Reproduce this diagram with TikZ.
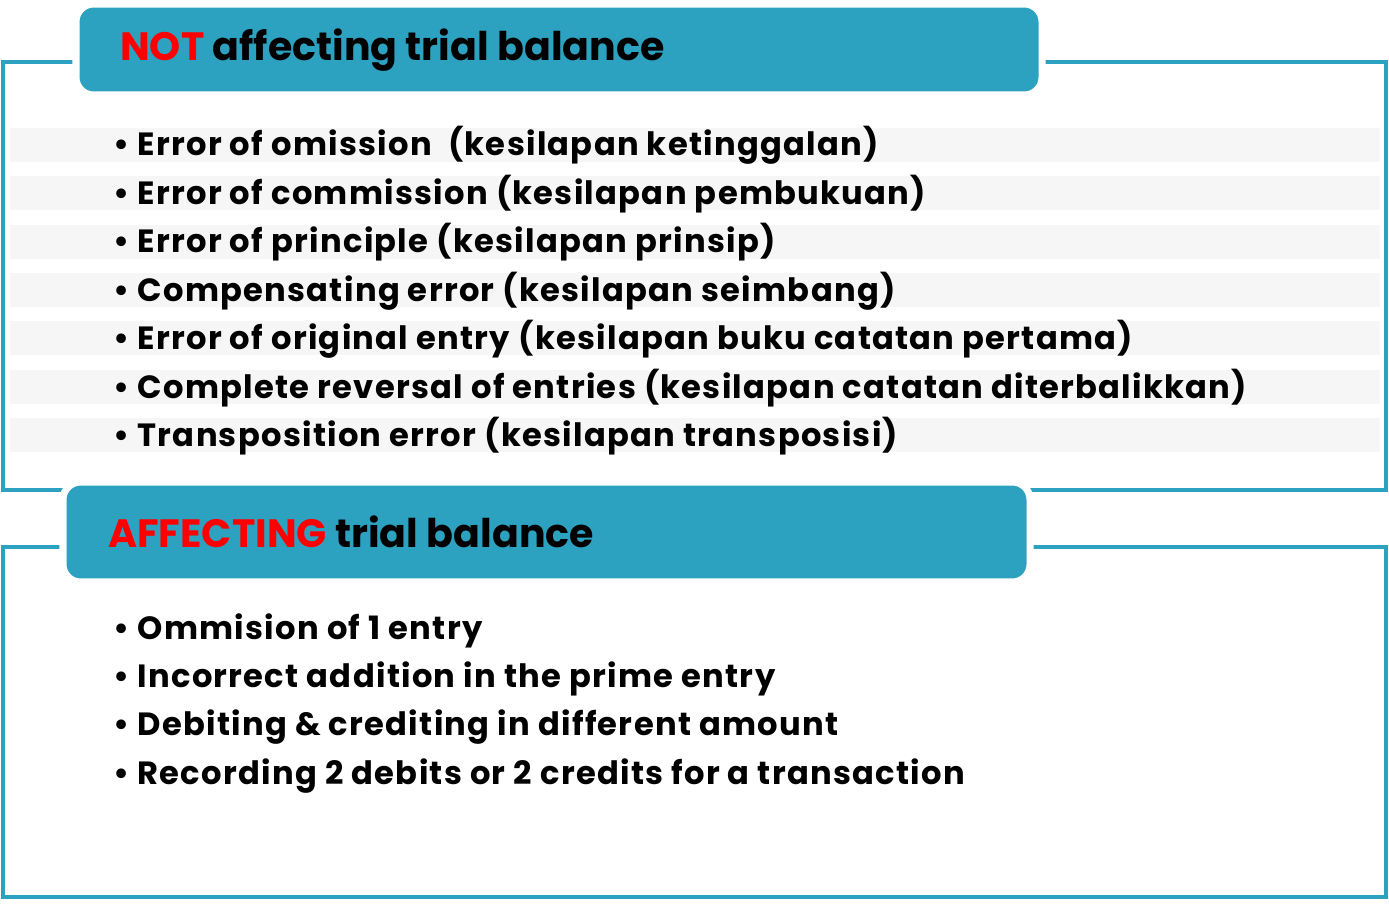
\documentclass[tikz,border=0pt]{standalone}
\usepackage{fontspec}
\setmainfont{Poppins}
\newfontfamily\itemfont[LetterSpace=4]{Poppins}
\definecolor{teal}{HTML}{2CA2C0}
\definecolor{notred}{HTML}{FF0000}
\definecolor{stripe}{HTML}{F6F6F6}
\tikzset{
  frame/.style={draw=teal, line width=2pt},
  header/.style={fill=teal, draw=white, line width=4pt, rounded corners=10pt},
  headtext/.style={anchor=west, font=\fontsize{22.5}{26}\selectfont\bfseries},
  item/.style={anchor=west, font=\itemfont\fontsize{18.3}{20}\selectfont\bfseries, inner sep=0pt},
}
\begin{document}
\begin{tikzpicture}[x=0.02cm, y=-0.02cm]
  \useasboundingbox (0,0) rectangle (1389,907);
  % outer frames
  \draw[frame] (3,62) rectangle (1386,490);
  \draw[frame] (3,547) rectangle (1386,897);
  % row stripes
  \foreach \y in {145,193,242,290,338,387,435}
    \fill[stripe] (10,\y-17) rectangle (1380,\y+17);
  % headers
  \draw[header] (76,4) rectangle (1042,95);
  \node[headtext] (nothead) at (114,50) {\textcolor{notred}{NOT} affecting trial balance};
  \draw[header] (63,482) rectangle (1030,582);
  \node[headtext] (affhead) at (102,532) {\textcolor{notred}{AFFECTING} trial balance};
  % first list
  \foreach \t [count=\i] in {%
    Error of omission\ \ (kesilapan ketinggalan),
    Error of commission (kesilapan pembukuan),
    Error of principle (kesilapan prinsip),
    Compensating error (kesilapan seimbang),
    Error of original entry (kesilapan buku catatan pertama),
    Complete reversal of entries (kesilapan catatan diterbalikkan),
    Transposition error (kesilapan transposisi)}
    \node[item] (nota\i) at (113,97+48.5*\i) {\textbullet\ \t};
  % second list
  \foreach \t [count=\i] in {%
    Ommision of 1 entry,
    Incorrect addition in the prime entry,
    Debiting \& crediting in different amount,
    Recording 2 debits or 2 credits for a transaction}
    \node[item] (aff\i) at (113,582+48.5*\i) {\textbullet\ \t};
\end{tikzpicture}
\end{document}
